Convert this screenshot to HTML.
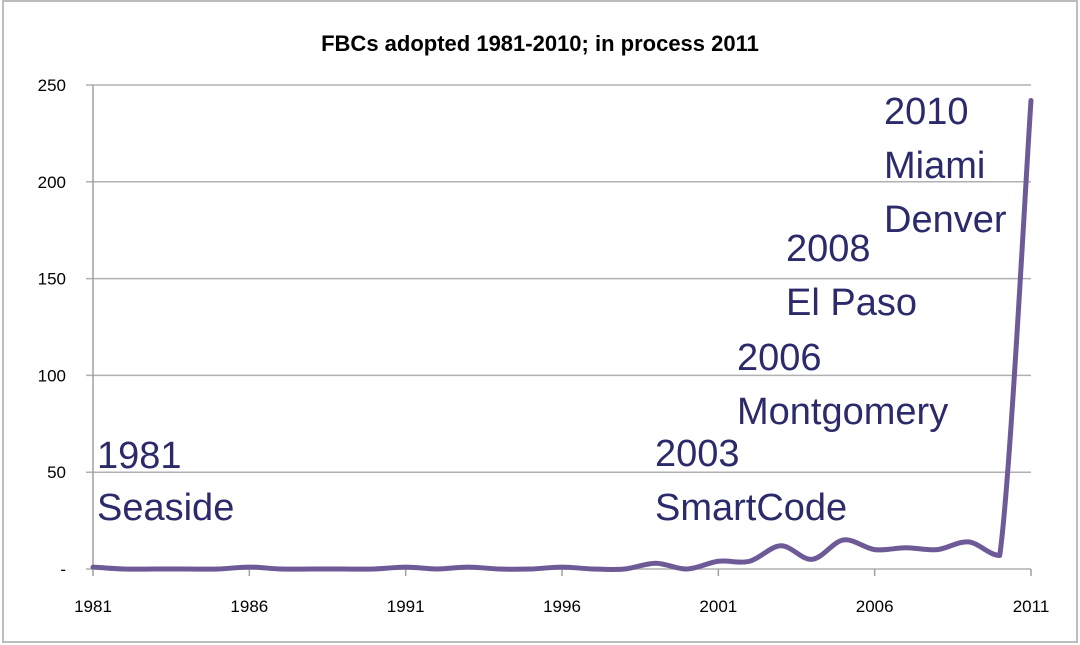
<!DOCTYPE html>
<html><head><meta charset="utf-8"><style>
html,body{margin:0;padding:0;background:#fff;width:1080px;height:645px;overflow:hidden}
svg{display:block}
.ann{font-family:"Liberation Sans",sans-serif;font-size:38px;fill:#2b2a6b}
.tick{font-family:"Liberation Sans",sans-serif;font-size:17px;fill:#000}
</style></head><body>
<svg id="chart" width="1080" height="645">
<rect x="3" y="1" width="1074" height="641" fill="#fff" stroke="#bdbdbd" stroke-width="2"/>
<text x="540" y="51" text-anchor="middle" font-family="Liberation Sans, sans-serif" font-weight="bold" font-size="22">FBCs adopted 1981-2010; in process 2011</text>
<g id="grid"></g>
<g id="axes"></g>
<path id="line" fill="none" stroke="#6e5a96" stroke-width="5" stroke-linejoin="round" stroke-linecap="round"/>
<g>
<text class="ann" x="97" y="468">1981</text>
<text class="ann" x="97" y="520">Seaside</text>
<text class="ann" x="655" y="466">2003</text>
<text class="ann" x="655" y="520">SmartCode</text>
<text class="ann" x="737" y="370">2006</text>
<text class="ann" x="737" y="424">Montgomery</text>
<text class="ann" x="786" y="261">2008</text>
<text class="ann" x="786" y="315">El Paso</text>
<text class="ann" x="884" y="124">2010</text>
<text class="ann" x="884" y="178">Miami</text>
<text class="ann" x="884" y="232">Denver</text>
</g>
</svg>
<script>
const years=[1981,1982,1983,1984,1985,1986,1987,1988,1989,1990,1991,1992,1993,1994,1995,1996,1997,1998,1999,2000,2001,2002,2003,2004,2005,2006,2007,2008,2009,2010,2011];
const counts=[1,0,0,0,0,1,0,0,0,0,1,0,1,0,0,1,0,0,3,0,4,4,12,5,15,10,11,10,14,7,242];
const yTicks=[0,50,100,150,200,250];
const yTickLabels=["-","50","100","150","200","250"];
const xTickYears=[1981,1986,1991,1996,2001,2006,2011];
const X=v=>93+(v-1981)*(1031-93)/30;
const Y=v=>569-v*(569-85)/250;
const NS="http://www.w3.org/2000/svg";
const grid=document.getElementById('grid'),axes=document.getElementById('axes');
function mk(tag,attrs,parent){const e=document.createElementNS(NS,tag);for(const k in attrs)e.setAttribute(k,attrs[k]);parent.appendChild(e);return e;}
yTicks.forEach((t,i)=>{
  const l=mk('line',{x1:86,x2:1031,y1:Y(t),y2:Y(t),stroke:'#b0b0b0','stroke-width':1.5},grid);
  
  
  const tx=mk('text',{x:66,y:Y(t)+6,'text-anchor':'end',class:'tick'},axes);
  tx.textContent=yTickLabels[i];
  
  
});
const ya=mk('line',{x1:93,x2:93,y1:85,y2:569,stroke:'#a0a0a0','stroke-width':1.5},axes);


xTickYears.forEach(yr=>{
  const l=mk('line',{x1:X(yr),x2:X(yr),y1:569,y2:576,stroke:'#a0a0a0','stroke-width':1.5},axes);
  
  
  const tx=mk('text',{x:X(yr),y:612,'text-anchor':'middle',class:'tick'},axes);
  tx.textContent=yr;
  
  
});
const pts=years.map((y,i)=>[X(y),Y(counts[i])]);
const clamp=(v,a,b)=>Math.max(Math.min(a,b),Math.min(Math.max(a,b),v));
let d='M'+pts[0][0]+','+pts[0][1];
for(let i=0;i<pts.length-1;i++){
  const p0=pts[i-1]||pts[i],p1=pts[i],p2=pts[i+1],p3=pts[i+2]||p2,t=6;
  let c1y=p1[1]+(p2[1]-p0[1])/t, c2y=p2[1]-(p3[1]-p1[1])/t;
  if(Math.abs(p3[1]-p1[1])>60||Math.abs(p2[1]-p0[1])>60){c1y=clamp(c1y,p1[1],p2[1]);c2y=clamp(c2y,p1[1],p2[1]);}
  d+=` C${p1[0]+(p2[0]-p0[0])/t},${c1y} ${p2[0]-(p3[0]-p1[0])/t},${c2y} ${p2[0]},${p2[1]}`;
}
document.getElementById('line').setAttribute('d',d);
</script>
</body></html>
